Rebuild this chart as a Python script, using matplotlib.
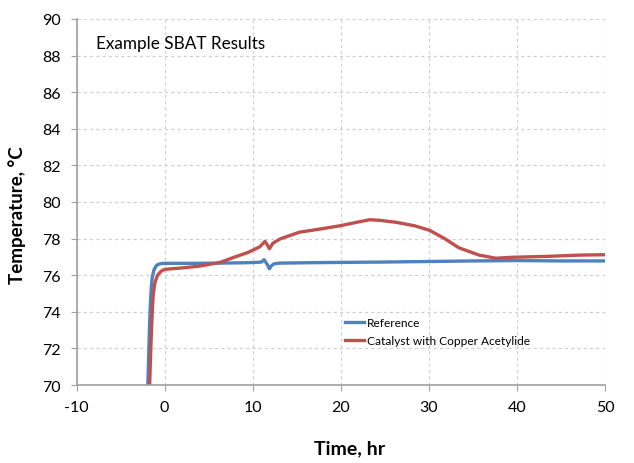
import matplotlib.pyplot as plt
import matplotlib.ticker as mticker

plt.rcParams['font.family'] = ['Lato', 'DejaVu Sans']
plt.rcParams['axes.unicode_minus'] = False

# Reference run (blue)
ref_time = [-1.9, -1.8, -1.7, -1.6, -1.5, -1.4, -1.2, -0.9, -0.5, 0, 3, 6, 9, 10.5,
            11.0, 11.3, 11.5, 11.7, 11.9, 12.1, 12.4, 13, 16, 20, 25, 30, 35, 40, 45, 50]
ref_temp = [70.0, 71.8, 73.4, 74.6, 75.4, 75.9, 76.3, 76.55, 76.63, 76.65, 76.65, 76.66, 76.68, 76.7,
            76.72, 76.85, 76.7, 76.55, 76.35, 76.5, 76.62, 76.66, 76.68, 76.7, 76.72, 76.75, 76.78, 76.8, 76.78, 76.78]

# Catalyst with copper acetylide (red)
cat_time = [-1.7, -1.6, -1.5, -1.4, -1.3, -1.1, -0.8, -0.4, 0, 2, 4, 6.3, 8, 9.5, 10.8,
            11.2, 11.4, 11.6, 11.9, 12.3, 13.1, 15.3, 17.6, 19.9, 22.2, 23.3, 24.4, 26.3,
            28.4, 30.1, 31.8, 33.4, 35.7, 37.6, 39.5, 43.4, 47.2, 50]
cat_temp = [70.0, 71.5, 72.9, 74.0, 74.9, 75.6, 76.0, 76.22, 76.32, 76.4, 76.5, 76.7, 77.0, 77.25, 77.55,
            77.75, 77.85, 77.7, 77.45, 77.75, 77.98, 78.35, 78.52, 78.7, 78.93, 79.03, 79.0, 78.89,
            78.7, 78.45, 78.0, 77.5, 77.1, 76.93, 76.98, 77.03, 77.1, 77.12]

ref_label = 'Reference'
cat_label = 'Catalyst with Copper Acetylide'

fig = plt.figure(figsize=(6.34, 4.64), dpi=100)
ax = fig.add_axes([0.1207, 0.168, 0.8336, 0.789])

ax.plot(ref_time, ref_temp, color='#4F81BD', lw=2.4, label=ref_label)
ax.plot(cat_time, cat_temp, color='#C0504D', lw=2.4, label=cat_label)

ax.set_xlim(-10, 50)
ax.set_ylim(70, 90)
ax.xaxis.set_major_locator(mticker.MultipleLocator(10))
ax.yaxis.set_major_locator(mticker.MultipleLocator(2))

ax.grid(True, color='#D0D0D0', linestyle=(0, (2.5, 2.5)), linewidth=0.9)
ax.set_axisbelow(True)
for side in ['top', 'right']:
    ax.spines[side].set_visible(False)
for side in ['left', 'bottom']:
    ax.spines[side].set_color('#A0A0A0')
    ax.spines[side].set_linewidth(1.2)
ax.tick_params(direction='out', length=4.5, color='#A0A0A0', labelsize=11.5, labelcolor='black')
ax.tick_params(axis='y', pad=7)
ax.tick_params(axis='x', pad=6)

# axis titles placed like the Excel chart
fig.text(0.552, 0.0323, 'Time, hr', fontsize=14, fontweight='bold', ha='center', va='center')
fig.text(0.0268, 0.5366, 'Temperature, °C', fontsize=13.5, fontweight='bold',
         ha='center', va='center', rotation=90)

ax.text(0.036, 0.934, 'Example SBAT Results', transform=ax.transAxes,
        fontsize=12.3, va='center', ha='left')

ax.legend(loc='upper left', bbox_to_anchor=(0.508, 0.185), frameon=False, fontsize=8.6,
          handlelength=1.6, handletextpad=0.2, borderpad=0, borderaxespad=0, labelspacing=0.6)

fig.savefig('out.png', dpi=100)
